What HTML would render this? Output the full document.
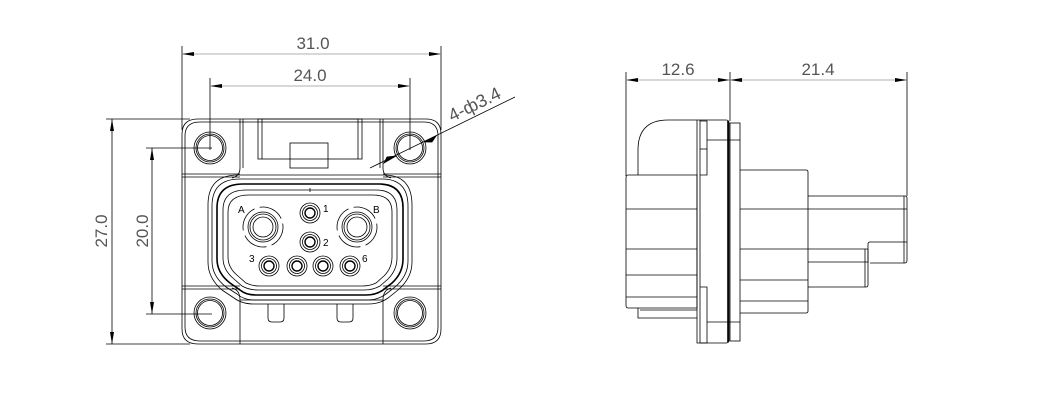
<!DOCTYPE html>
<html><head><meta charset="utf-8"><style>html,body{margin:0;padding:0;background:#fff}svg{display:block}text{font-family:"Liberation Sans",sans-serif;fill:#555;font-size:17px}text.s{font-size:10px;fill:#000}</style></head>
<body>
<svg width="1050" height="418" viewBox="0 0 1050 418" xmlns="http://www.w3.org/2000/svg">
<defs>
<marker id="a" viewBox="0 0 12 4" refX="12" refY="2" markerWidth="12" markerHeight="4" orient="auto-start-reverse" markerUnits="userSpaceOnUse"><path d="M0,0L12,2L0,4z" fill="#000"/></marker>
</defs>
<g stroke="#000" stroke-width="0.8" fill="none">
<line x1="182" y1="46" x2="182" y2="130"/>
<line x1="441" y1="46" x2="441" y2="130"/>
<line x1="210" y1="78" x2="210" y2="150"/>
<line x1="410" y1="78" x2="410" y2="150"/>
<line x1="106" y1="119" x2="190" y2="119"/>
<line x1="106" y1="344" x2="190" y2="344"/>
<line x1="146" y1="148" x2="212" y2="148"/>
<line x1="146" y1="314" x2="212" y2="314"/>
<line x1="182" y1="54" x2="441" y2="54" stroke="#999" marker-start="url(#a)" marker-end="url(#a)"/>
<line x1="210" y1="86" x2="410" y2="86" stroke="#999" marker-start="url(#a)" marker-end="url(#a)"/>
<line x1="112" y1="119" x2="112" y2="344" marker-start="url(#a)" marker-end="url(#a)"/>
<line x1="152" y1="148" x2="152" y2="314" marker-start="url(#a)" marker-end="url(#a)"/>
<line x1="370" y1="168" x2="515" y2="97"/>
<path d="M396,156 L384,163 L387,157z M424,142 L436,136 L432,142z" fill="#000"/>

<path d="M198,119 H426 Q441,119 441,134 V329 Q441,344 426,344 H198 Q182,344 182,329 V134 Q182,119 198,119z"/>
<path d="M200,122 H424 Q438,122 438,136 V327 Q438,341 424,341 H200 Q185,341 185,327 V136 Q185,122 200,122z"/>
<line x1="182" y1="174" x2="240" y2="174"/><line x1="182" y1="177" x2="240" y2="177"/>
<line x1="182" y1="286" x2="240" y2="286"/><line x1="182" y1="289" x2="240" y2="289"/>
<line x1="383" y1="174" x2="441" y2="174"/><line x1="383" y1="177" x2="441" y2="177"/>
<line x1="383" y1="286" x2="441" y2="286"/><line x1="383" y1="289" x2="441" y2="289"/>
<path d="M240,119 V168 Q240,176 232,178"/><path d="M243,119 V168"/>
<path d="M383,119 V168 Q383,176 391,178"/><path d="M380,119 V168"/>
<path d="M240,344 V300 Q240,290 232,288"/><path d="M383,344 V300 Q383,290 391,288"/>
<g>
<circle cx="210" cy="148" r="16"/><circle cx="210" cy="148" r="14"/><circle cx="210" cy="148" r="12.5"/>
<circle cx="410" cy="148" r="16"/><circle cx="410" cy="148" r="14"/><circle cx="410" cy="148" r="12.5"/>
<circle cx="210" cy="313" r="16"/><circle cx="210" cy="313" r="14"/><circle cx="210" cy="313" r="12.5"/>
<circle cx="410" cy="313" r="16"/><circle cx="410" cy="313" r="14"/><circle cx="410" cy="313" r="12.5"/>
</g>
<rect x="258" y="119" width="104" height="40"/>
<line x1="262" y1="119" x2="262" y2="159"/><line x1="358" y1="119" x2="358" y2="159"/>
<rect x="290" y="143" width="38" height="25"/>
<path d="M238,175 H384 Q412,175 412,205 V262 Q412,278 398,290 L388,298 Q380,304 368,304 H254 Q242,304 234,298 L222,290 Q208,278 208,262 V205 Q208,175 238,175z"/>
<path d="M240,179 H382 Q408,179 408,206 V261 Q408,276 395,287 L386,294 Q378,300 367,300 H255 Q244,300 237,294 L226,287 Q212,276 212,261 V206 Q212,179 240,179z"/>
<path d="M243,184 H379 Q403,184 403,208 V259 Q403,273 392,283 L383,290 Q376,295 366,295 H256 Q246,295 240,290 L230,283 Q217,273 217,259 V208 Q217,184 243,184z" stroke-width="1.6"/>
<path d="M246,190 H376 Q397,190 397,210 V258 Q397,270 388,279 L380,286 Q373,290 364,290 H258 Q249,290 242,286 L234,279 Q223,270 223,258 V210 Q223,190 246,190z"/>
<path d="M249,195 H373 Q392,195 392,212 V257 Q392,268 384,276 L376,283 Q370,286 362,286 H260 Q252,286 246,283 L238,276 Q228,268 228,257 V212 Q228,195 249,195z"/>
<line x1="310" y1="188" x2="310" y2="192"/>
<g>
<circle cx="263" cy="227" r="20" stroke-dasharray="26 5.4" transform="rotate(-10 263 227)"/>
<circle cx="263" cy="227" r="15"/><circle cx="263" cy="227" r="13"/><circle cx="263" cy="227" r="10"/>
<circle cx="357" cy="227" r="20" stroke-dasharray="26 5.4" transform="rotate(-10 357 227)"/>
<circle cx="357" cy="227" r="15"/><circle cx="357" cy="227" r="13"/><circle cx="357" cy="227" r="10"/>
<circle cx="310" cy="213" r="10"/><circle cx="310" cy="213" r="7.5"/><circle cx="310" cy="213" r="5" stroke-width="1.4"/>
<circle cx="310" cy="242" r="10"/><circle cx="310" cy="242" r="7.5"/><circle cx="310" cy="242" r="5" stroke-width="1.4"/>
<circle cx="269" cy="266" r="10"/><circle cx="269" cy="266" r="7.5"/><circle cx="269" cy="266" r="5" stroke-width="1.4"/>
<circle cx="297" cy="266" r="10"/><circle cx="297" cy="266" r="7.5"/><circle cx="297" cy="266" r="5" stroke-width="1.4"/>
<circle cx="323" cy="266" r="10"/><circle cx="323" cy="266" r="7.5"/><circle cx="323" cy="266" r="5" stroke-width="1.4"/>
<circle cx="350" cy="266" r="10"/><circle cx="350" cy="266" r="7.5"/><circle cx="350" cy="266" r="5" stroke-width="1.4"/>
</g>
<path d="M268,304 V318 Q268,322 272,322 H280 Q284,322 284,318 V304"/>
<path d="M337,304 V318 Q337,322 341,322 H349 Q353,322 353,318 V304"/>
<line x1="240" y1="300" x2="383" y2="300"/>

<line x1="626" y1="72" x2="626" y2="176"/>
<line x1="730" y1="72" x2="730" y2="121"/>
<line x1="907" y1="72" x2="907" y2="196"/>
<line x1="626" y1="80" x2="730" y2="80" stroke="#999" marker-start="url(#a)" marker-end="url(#a)"/>
<line x1="730" y1="80" x2="907" y2="80" stroke="#999" marker-start="url(#a)" marker-end="url(#a)"/>
<path d="M628,175 H697 V308 H628 Q626,308 626,305 V178 Q626,175 628,175z"/>
<line x1="626" y1="209" x2="697" y2="209"/><line x1="626" y1="249" x2="697" y2="249"/>
<line x1="626" y1="275" x2="697" y2="275"/><line x1="626" y1="297" x2="697" y2="297"/>
<path d="M638,175 V150 Q638,120 668,120 H697"/>
<path d="M638,308 V318 H697"/><line x1="640" y1="310" x2="697" y2="310"/>
<path d="M697,120 H726 Q729,120 729,123 V340 Q729,343 726,343 H697z"/>
<line x1="700" y1="120" x2="700" y2="343"/>
<path d="M700,121 H707 V175 H700"/><path d="M700,287 H707 V343 H700"/>
<line x1="700" y1="149" x2="707" y2="149"/>
<line x1="728" y1="121" x2="728" y2="342" stroke-width="1.6"/>
<rect x="730" y="123" width="10" height="218"/>
<line x1="707" y1="140" x2="740" y2="140"/>
<line x1="707" y1="322" x2="740" y2="322"/>
<path d="M740,170 H806 Q808,170 808,172 V311 Q808,313 806,313 H740"/>
<line x1="740" y1="209" x2="808" y2="209"/><line x1="740" y1="249" x2="868" y2="249"/>
<line x1="740" y1="280" x2="808" y2="280"/><line x1="740" y1="301" x2="808" y2="301"/>
<path d="M808,196 H905 Q907,196 907,198 V260 Q907,263 905,263 H870"/>
<line x1="808" y1="209" x2="907" y2="209"/>
<line x1="904" y1="196" x2="904" y2="263"/>
<path d="M868,263 V244 Q868,242 870,242 H907"/>
<path d="M868,249 V285 Q868,287 866,287 H808"/>
<line x1="808" y1="262" x2="868" y2="262"/><line x1="865" y1="249" x2="865" y2="287"/>
</g>
<text x="313" y="49" text-anchor="middle">31.0</text>
<text x="310" y="81" text-anchor="middle">24.0</text>
<text transform="translate(107,231) rotate(-90)" text-anchor="middle">27.0</text>
<text transform="translate(148,231) rotate(-90)" text-anchor="middle">20.0</text>
<text transform="translate(452,122) rotate(-26)" style="font-size:18px">4-ф3.4</text>
<text x="678" y="75" text-anchor="middle">12.6</text>
<text x="818" y="75" text-anchor="middle">21.4</text>
<text class="s" x="238" y="213">A</text><text class="s" x="373" y="213">B</text>
<text class="s" x="323" y="212">1</text><text class="s" x="323" y="246">2</text>
<text class="s" x="249" y="262">3</text><text class="s" x="362" y="262">6</text>
</svg>
</body></html>
